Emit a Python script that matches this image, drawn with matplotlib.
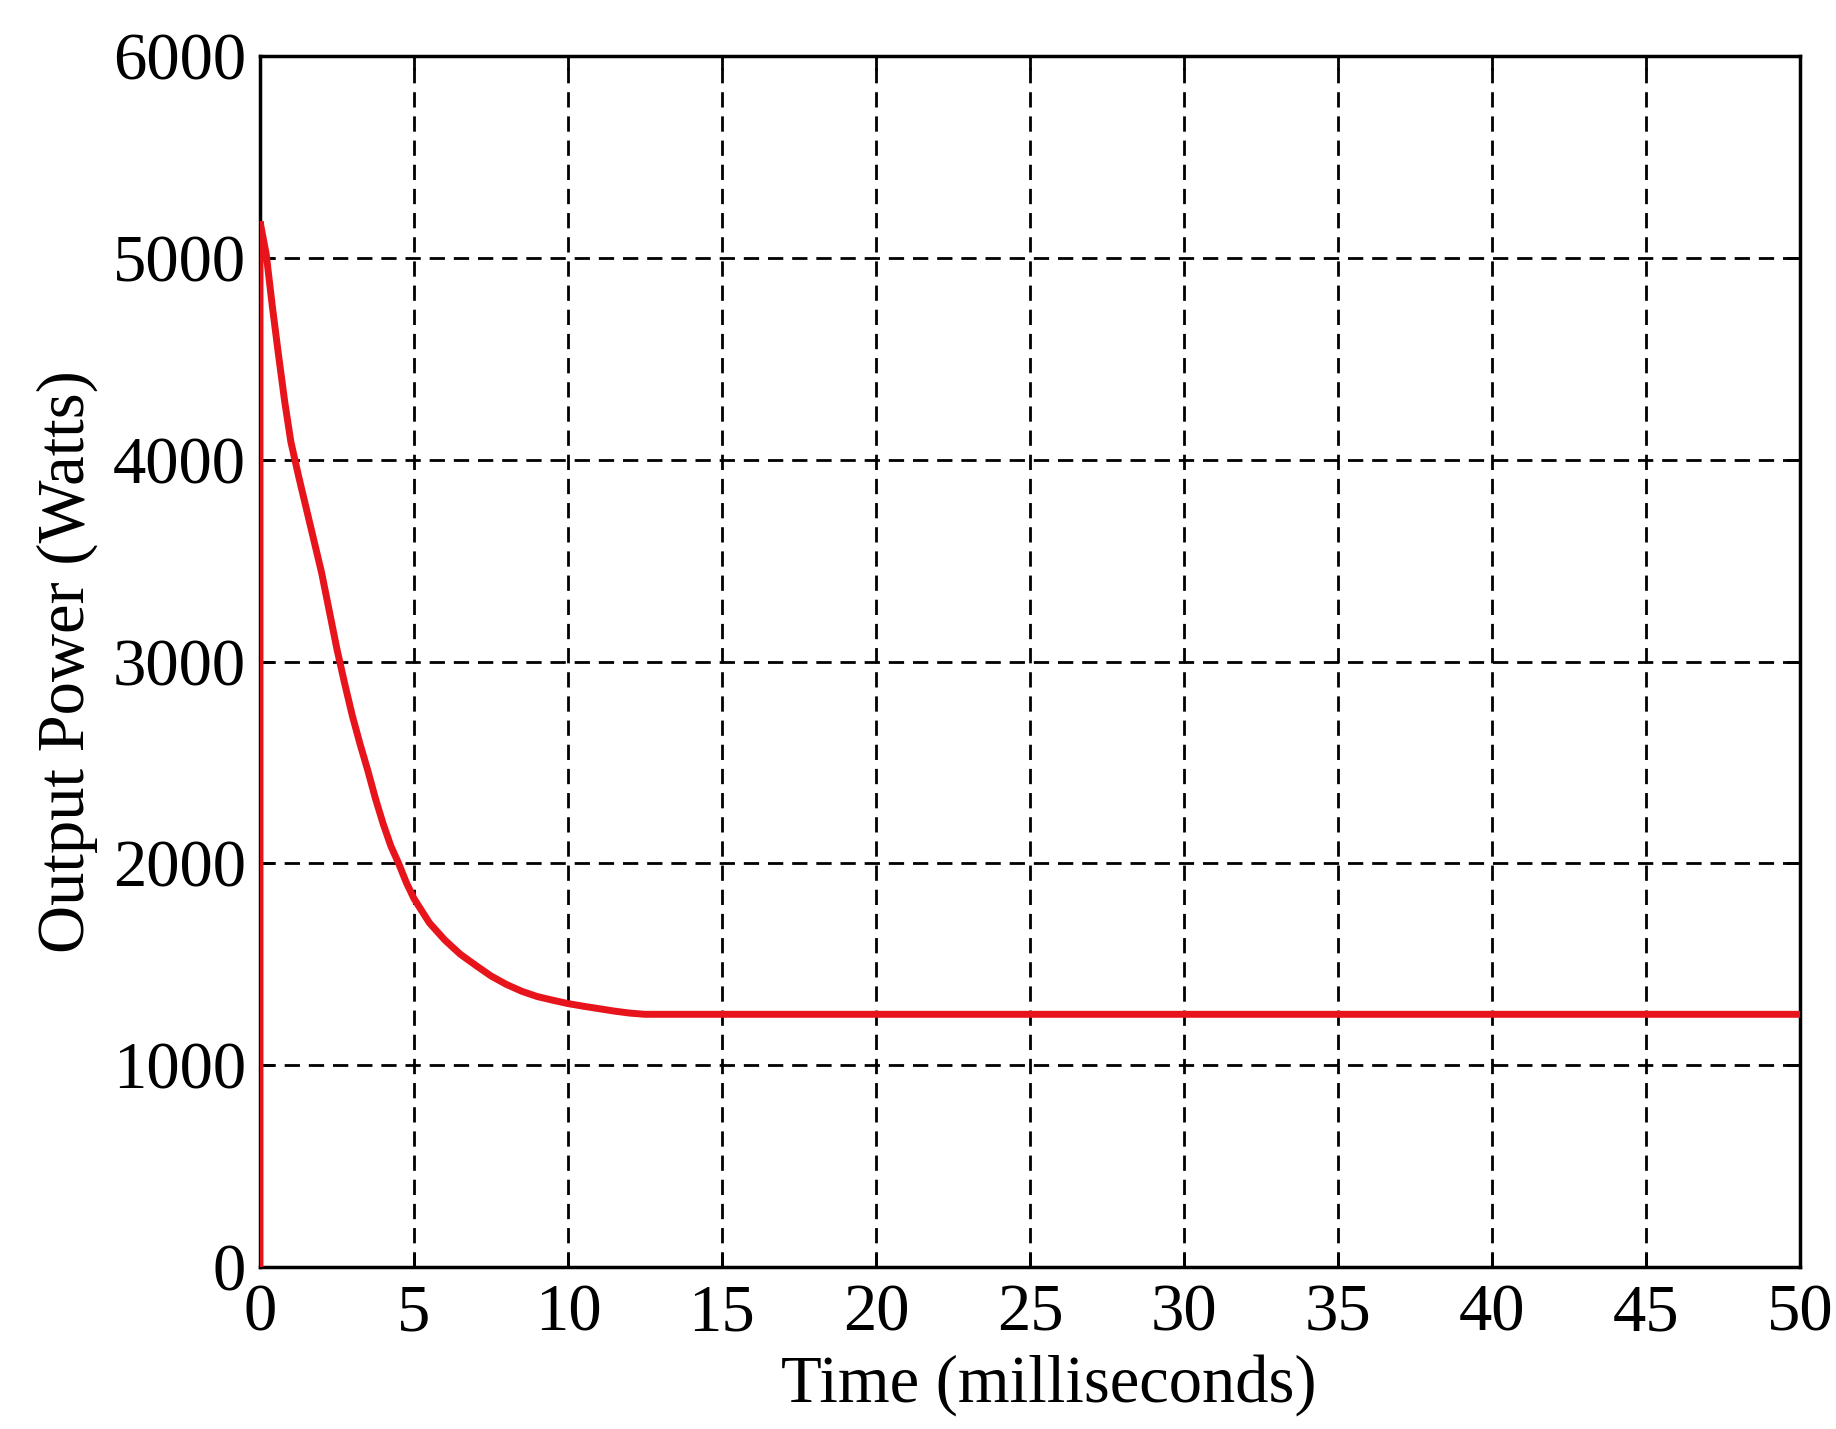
import matplotlib
matplotlib.use("Agg")
import matplotlib.pyplot as plt

# Data
time_ms = [0, 0, 0.2, 0.4, 0.6, 0.8, 1.0, 1.25, 1.5, 1.75, 2.0, 2.25, 2.5, 2.75,
           3.0, 3.25, 3.5, 3.75, 4.0, 4.25, 4.5, 4.75, 5.0, 5.5, 6.0, 6.5, 7.0,
           7.5, 8.0, 8.5, 9.0, 9.5, 10.0, 10.5, 11.0, 11.5, 12.0, 12.5, 50]
power_w = [0, 5180, 5020, 4760, 4520, 4290, 4090, 3920, 3760, 3600, 3440, 3250,
           3060, 2890, 2730, 2590, 2460, 2320, 2195, 2085, 2000, 1905, 1825,
           1705, 1620, 1550, 1495, 1442, 1400, 1366, 1340, 1322, 1305, 1292,
           1280, 1268, 1258, 1252, 1252]

x_ticks = [0, 5, 10, 15, 20, 25, 30, 35, 40, 45, 50]
y_ticks = [0, 1000, 2000, 3000, 4000, 5000, 6000]

plt.rcParams['font.family'] = ['Liberation Serif', 'DejaVu Serif']

fig = plt.figure(figsize=(18.36, 14.29), dpi=100)
ax = fig.add_axes([260/1836, 1 - 1267/1429, 1540/1836, (1267-56)/1429])

ax.plot(time_ms, power_w, color='#E8141C', linewidth=5.0, zorder=3,
        solid_joinstyle='miter')

ax.set_xlim(0, 50)
ax.set_ylim(0, 6000)
ax.set_xticks(x_ticks)
ax.set_yticks(y_ticks)
ax.set_xticklabels([str(v) for v in x_ticks])
ax.set_yticklabels([str(v) for v in y_ticks])

ax.grid(True, color='black', linestyle=(0, (5.5, 3.2)), linewidth=2.0)
ax.set_axisbelow(True)

ax.tick_params(axis='both', which='major', direction='in', length=10, width=2,
               top=True, right=True, labelsize=48, colors='black')
ax.tick_params(axis='x', pad=12)
ax.tick_params(axis='y', pad=10)

for s in ax.spines.values():
    s.set_linewidth(2.5)
    s.set_color('black')

ax.set_xlabel('Time (milliseconds)', fontsize=48)
ax.xaxis.set_label_coords(0.512, -0.072)
ax.set_ylabel('Output Power (Watts)', fontsize=48)
ax.yaxis.set_label_coords(-0.105, 0.5)

fig.savefig('out.png', dpi=100, facecolor='white')
